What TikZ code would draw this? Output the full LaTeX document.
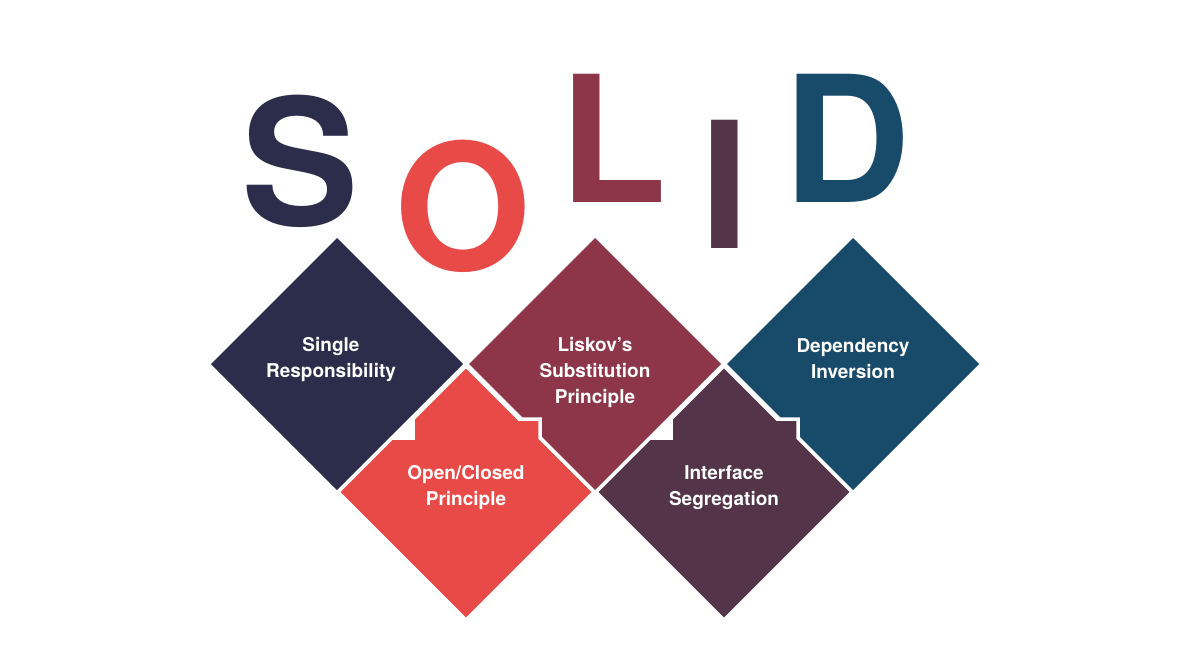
\documentclass[tikz,border=0pt]{standalone}
\usepackage{fontspec}
\setmainfont{TeX Gyre Heros}
\definecolor{cnavy}{HTML}{2B2D4A}
\definecolor{cred}{HTML}{E84A47}
\definecolor{cmaroon}{HTML}{8E3649}
\definecolor{cpurple}{HTML}{533449}
\definecolor{cblue}{HTML}{184A6A}
\begin{document}
\begin{tikzpicture}[x=1pt,y=-1pt,
  lbl/.style={text=white,font=\bfseries\fontsize{19}{26}\selectfont,align=center},
  big/.style={font=\bfseries\fontsize{176}{176}\selectfont,inner sep=0pt,anchor=base},
  bshape/.style={draw=white,line width=3.5pt,line join=miter}]
\useasboundingbox (0,0) rectangle (1191,669);
% top diamonds
\fill[cnavy] (337,238) -- (463,364) -- (337,490) -- (211,364) -- cycle;
\fill[cmaroon] (595,238) -- (721,364) -- (595,490) -- (469,364) -- cycle;
\fill[cblue] (853,238) -- (979,364) -- (853,490) -- (727,364) -- cycle;
% bottom notched shapes
\foreach \dx/\c in {0/cred,258/cpurple}{
\begin{scope}[xshift=\dx]
\filldraw[fill=\c,bshape] (466,366) -- (519,419) -- (540,419) -- (540,438) -- (594,492)
  -- (466,620) -- (338,492) -- (392,438) -- (413,438) -- (413,419) -- cycle;
\end{scope}}
\node[lbl] (sr) at (331,359) {Single\\Responsibility};
\node[lbl] (lsp) at (595,372) {Liskov's\\Substitution\\Principle};
\node[lbl] (di) at (853,359) {Dependency\\Inversion};
\node[lbl] (ocp) at (466,488) {Open/Closed\\Principle};
\node[lbl] (isp) at (724,488) {Interface\\Segregation};
% letters
\node[big,text=cnavy] (S) at (300,225) {S};
\node[big,text=cred] (O) at (463,270) {O};
\node[big,text=cmaroon] (L) at (613,202) {L};
\node[big,text=cpurple] (I) at (725,248) {I};
\node[big,text=cblue] (D) at (847,202) {D};
\end{tikzpicture}
\end{document}
